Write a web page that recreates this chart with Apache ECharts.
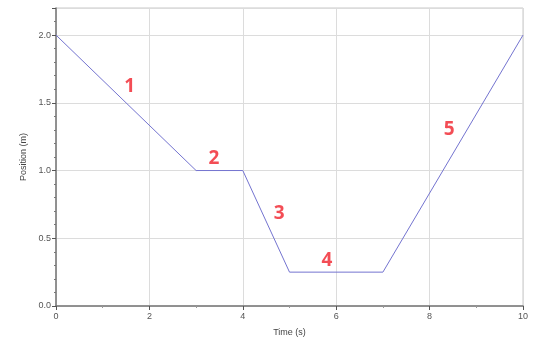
<!DOCTYPE html>
<html><head><meta charset="utf-8">
<script src="https://cdn.jsdelivr.net/npm/echarts@6/dist/echarts.min.js"></script>
<style>html,body{margin:0;padding:0;background:#fff}#c{width:554px;height:359px}</style>
</head><body><div id="c"></div>
<script>
const times = [0, 3, 4, 5, 7, 10];
const positions = [2.0, 1.0, 1.0, 0.25, 0.25, 2.0];
const segmentLabels = ['1', '2', '3', '4', '5'];
const labelX = [1.58, 3.38, 4.78, 5.80, 8.42];
const labelY = [1.62, 1.09, 0.68, 0.335, 1.30];

const chart = echarts.init(document.getElementById('c'), null, {renderer: 'canvas'});
chart.setOption({
  animation: false,
  backgroundColor: '#fff',
  grid: {left: 56, right: 31, top: 8, bottom: 53, show: true, borderColor: '#c8c8c8', borderWidth: 1},
  xAxis: {
    type: 'value', min: 0, max: 10, interval: 2,
    name: 'Time (s)', nameLocation: 'middle', nameGap: 22,
    nameTextStyle: {color: '#444', fontSize: 9, fontFamily: 'Liberation Sans'},
    axisLine: {show: true, lineStyle: {color: '#777', width: 1.5}},
    axisTick: {show: true, length: 4, lineStyle: {color: '#555'}},
    minorTick: {show: true, splitNumber: 2, length: 2, lineStyle: {color: '#999'}},
    axisLabel: {color: '#555', fontSize: 9, margin: 6, fontFamily: 'Liberation Sans'},
    splitLine: {show: true, lineStyle: {color: '#dcdcdc', width: 1}}
  },
  yAxis: {
    type: 'value', min: 0, max: 2.2, interval: 0.5,
    name: 'Position (m)', nameLocation: 'middle', nameGap: 28, nameRotate: 90,
    nameTextStyle: {color: '#444', fontSize: 9, fontFamily: 'Liberation Sans'},
    axisLine: {show: true, lineStyle: {color: '#777', width: 1.5}},
    axisTick: {show: true, length: 4, lineStyle: {color: '#555'}},
    minorTick: {show: true, splitNumber: 5, length: 2, lineStyle: {color: '#777'}},
    axisLabel: {color: '#555', fontSize: 9, margin: 5, fontFamily: 'Liberation Sans',
      showMaxLabel: false,
      formatter: v => (Math.abs(v * 2 - Math.round(v * 2)) < 1e-6 ? v.toFixed(1) : '')},
    splitLine: {show: true, lineStyle: {color: '#dcdcdc', width: 1}}
  },
  series: [
    {
      type: 'line', data: times.map((t, i) => [t, positions[i]]),
      symbol: 'none', lineStyle: {color: '#7474d0', width: 1}
    },
    {
      type: 'scatter', symbolSize: 0,
      data: segmentLabels.map((n, i) => ({name: n, value: [labelX[i], labelY[i]]})),
      label: {show: true, position: 'inside', formatter: p => p.name,
        color: '#f0202a', fontSize: 19, fontWeight: 'bold', fontFamily: 'Open Sans'}
    }
  ]
});
</script></body></html>
